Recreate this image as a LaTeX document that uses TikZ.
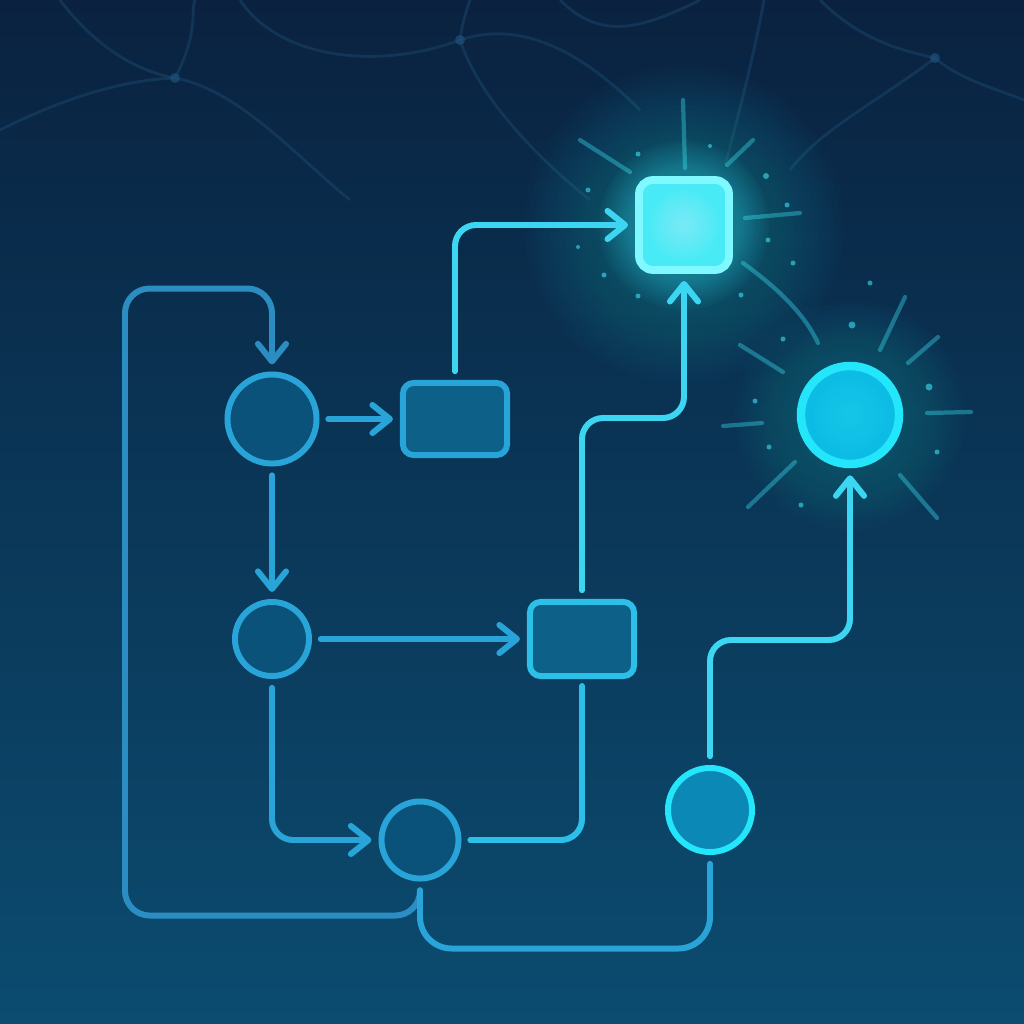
\documentclass[tikz,border=0pt]{standalone}
\usetikzlibrary{arrows.meta}
\definecolor{bgtop}{HTML}{0A2240}
\definecolor{bgbot}{HTML}{0B4C70}
\definecolor{netline}{HTML}{1E5078}
\definecolor{dimline}{HTML}{2C8DC2}
\definecolor{midline}{HTML}{28A4D8}
\definecolor{brightline}{HTML}{2CC0E8}
\definecolor{hotline}{HTML}{3CD6F2}
\definecolor{glow}{HTML}{3FEFFF}
\definecolor{darkfill}{HTML}{0A527A}
\definecolor{midfill}{HTML}{0D6088}
\definecolor{litfill}{HTML}{0B88B6}
\definecolor{gfill}{HTML}{48EAF6}
\definecolor{gedge}{HTML}{80F8FF}
\definecolor{hfill}{HTML}{0CBCE4}
\definecolor{hedge}{HTML}{24E6FA}
\begin{document}
\begin{tikzpicture}[x=0.01cm,y=-0.01cm,
  link/.style={line width=1.7pt,line cap=round,rounded corners=6pt},
  flow/.style={link,shorten <=2.5pt,shorten >=2pt,-{Straight Barb[round,length=5pt,width=8pt]}},
  state/.style={draw,circle,line width=1.7pt,inner sep=0pt},
  block/.style={draw,rectangle,line width=1.7pt,rounded corners=3pt,inner sep=0pt},
  net/.style={netline,line width=0.8pt,opacity=0.4},
  ray/.style={glow,line width=1.2pt,line cap=round,opacity=0.35},
  spark/.style={glow,opacity=0.55}]
\useasboundingbox (0,0) rectangle (1024,1024);
\shade[top color=bgtop,bottom color=bgbot] (0,0) rectangle (1024,1024);
% faint network in the background
\draw[net] (60,0) .. controls (90,40) and (130,70) .. (175,78);
\draw[net] (0,130) .. controls (60,100) and (120,80) .. (175,78);
\draw[net] (175,78) .. controls (240,90) and (300,160) .. (350,200);
\draw[net] (175,78) .. controls (200,30) and (190,10) .. (195,0);
\draw[net] (240,0) .. controls (280,60) and (380,70) .. (460,40);
\draw[net] (460,40) .. controls (520,20) and (580,50) .. (640,110);
\draw[net] (460,40) .. controls (480,100) and (540,160) .. (590,200);
\draw[net] (470,0) .. controls (465,15) and (462,25) .. (460,40);
\draw[net] (560,0) .. controls (600,40) and (640,30) .. (700,0);
\draw[net] (820,0) .. controls (860,40) and (900,50) .. (935,58);
\draw[net] (935,58) .. controls (960,80) and (1000,90) .. (1024,100);
\draw[net] (935,58) .. controls (880,100) and (820,130) .. (790,170);
\draw[net] (725,165) .. controls (740,110) and (755,50) .. (764,0);
\foreach \x/\y in {175/78,460/40,935/58}
  \fill[netline,opacity=0.7] (\x,\y) circle[radius=5];
% glow halos
\coordinate (gc) at (684,225);
\coordinate (hc) at (850,415);
\foreach \r in {160,155,...,20}
  \fill[glow,opacity=0.011] (gc) circle[radius=\r];
\foreach \r in {85,82,...,55}
  \fill[glow,opacity=0.03] (gc) circle[radius=\r];
\foreach \r in {115,111,...,30}
  \fill[glow,opacity=0.012] (hc) circle[radius=\r];
% rays and sparks
\foreach \xa/\ya/\xb/\yb in {580/140/630/172,683/100/685/168,727/165/753/140,745/218/800/213,
    740/345/783/372,880/350/905/297,908/363/938/337,927/413/971/412,723/426/762/423,
    748/507/795/462,900/475/937/518}
  \draw[ray] (\xa,\ya) -- (\xb,\yb);
\draw[ray] (743,263) .. controls (780,290) and (805,315) .. (818,343);
\foreach \x/\y/\s in {638/154/2.5,710/146/2,588/190/2.5,766/176/3,787/205/2.5,578/247/2,
    768/240/2.5,604/275/2.5,638/296/2.5,741/295/2.5,793/263/2.5,852/325/3.5,783/339/2.5,
    929/387/3.5,755/401/2.5,769/447/2.5,937/452/2.5,801/505/2.5,870/283/2.5}
  \fill[spark] (\x,\y) circle[radius=\s];
% nodes
\node[state,draw=midline,fill=darkfill,minimum size=0.89cm] (A) at (272,419) {};
\node[block,draw=midline,fill=midfill,minimum width=1.04cm,minimum height=0.72cm] (B) at (455,419) {};
\node[state,draw=midline,fill=darkfill,minimum size=0.74cm] (C) at (272,639) {};
\node[block,draw=brightline,fill=midfill,minimum width=1.04cm,minimum height=0.74cm] (D) at (582,639) {};
\node[state,draw=midline,fill=darkfill,minimum size=0.77cm] (E) at (420,840) {};
\node[state,draw=hedge,fill=litfill,minimum size=0.84cm] (F) at (710,810) {};
\node[block,draw=gedge,fill=gfill,minimum size=0.9cm,rounded corners=4pt,line width=2.2pt] (G) at (gc) {};
\node[state,draw=hedge,fill=hfill,minimum size=0.98cm,line width=2.4pt] (H) at (hc) {};
\foreach \r in {35,31,...,7}
  \fill[white,opacity=0.035] (G) circle[radius=\r];
\foreach \r in {36,32,...,8}
  \fill[glow,opacity=0.04] (H) circle[radius=\r];
% connectors
\draw[flow,dimline,rounded corners=7pt] (E.south) -- ++(0,34) -| ++(-295,-627) -| (A.north);
\draw[link,midline,rounded corners=9pt,shorten <=2.5pt,shorten >=2.5pt] (E.south) -- ++(0,67) -| (F.south);
\draw[flow,midline] (A) -- (B);
\draw[flow,midline] (A) -- (C);
\draw[flow,midline] (C) -- (D);
\draw[flow,midline] (C.south) |- (E.west);
\draw[link,brightline,shorten <=2.5pt,shorten >=2pt] (E.east) -| (D.south);
\draw[flow,hotline] (B.north) |- (G.west);
\draw[flow,hotline] (D.north) -- ++(0,-181) -| (G.south);
\draw[flow,hotline] (F.north) -- ++(0,-125) -| (H.south);
\end{tikzpicture}
\end{document}
